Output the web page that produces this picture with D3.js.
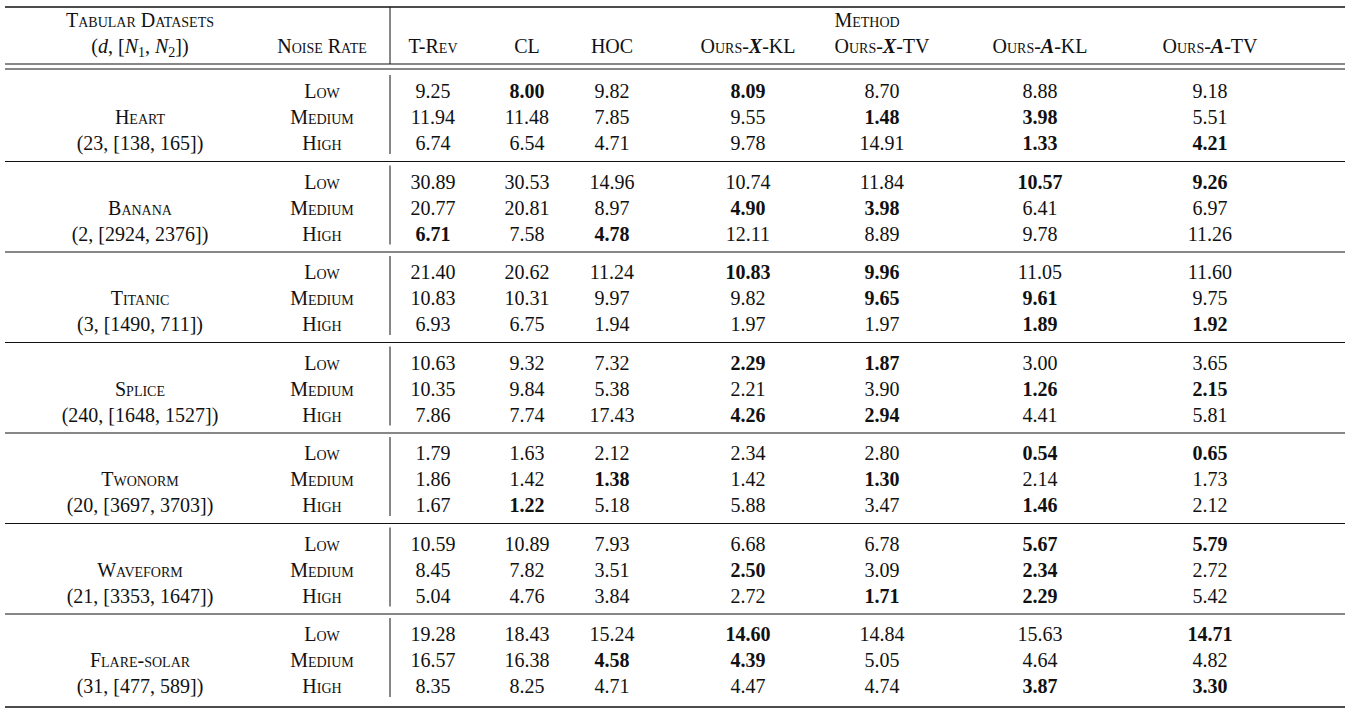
<!DOCTYPE html>
<html><head><meta charset="utf-8">
<script src="https://cdn.jsdelivr.net/npm/d3@7"></script>
<style>body{margin:0;background:#fff}text{font-family:"Liberation Serif","DejaVu Serif",serif;font-size:20px;fill:#111}</style>
</head><body>
<script>
var datasets = ["Heart", "Banana", "Titanic", "Splice", "Twonorm", "Waveform", "Flare-solar"];
var dims = ["(23, [138, 165])", "(2, [2924, 2376])", "(3, [1490, 711])", "(240, [1648, 1527])",
            "(20, [3697, 3703])", "(21, [3353, 1647])", "(31, [477, 589])"];
var noiseRates = ["Low", "Medium", "High"];
var methods = ["T-Rev", "CL", "HOC", "X-KL", "X-TV", "A-KL", "A-TV"];

var values = [
  [[9.25,8.00,9.82,8.09,8.70,8.88,9.18],[11.94,11.48,7.85,9.55,1.48,3.98,5.51],[6.74,6.54,4.71,9.78,14.91,1.33,4.21]],
  [[30.89,30.53,14.96,10.74,11.84,10.57,9.26],[20.77,20.81,8.97,4.90,3.98,6.41,6.97],[6.71,7.58,4.78,12.11,8.89,9.78,11.26]],
  [[21.40,20.62,11.24,10.83,9.96,11.05,11.60],[10.83,10.31,9.97,9.82,9.65,9.61,9.75],[6.93,6.75,1.94,1.97,1.97,1.89,1.92]],
  [[10.63,9.32,7.32,2.29,1.87,3.00,3.65],[10.35,9.84,5.38,2.21,3.90,1.26,2.15],[7.86,7.74,17.43,4.26,2.94,4.41,5.81]],
  [[1.79,1.63,2.12,2.34,2.80,0.54,0.65],[1.86,1.42,1.38,1.42,1.30,2.14,1.73],[1.67,1.22,5.18,5.88,3.47,1.46,2.12]],
  [[10.59,10.89,7.93,6.68,6.78,5.67,5.79],[8.45,7.82,3.51,2.50,3.09,2.34,2.72],[5.04,4.76,3.84,2.72,1.71,2.29,5.42]],
  [[19.28,18.43,15.24,14.60,14.84,15.63,14.71],[16.57,16.38,4.58,4.39,5.05,4.64,4.82],[8.35,8.25,4.71,4.47,4.74,3.87,3.30]]
];
// column indices shown in bold, per row
var bold = [
  [[1,3],[4,5],[5,6]],
  [[5,6],[3,4],[0,2]],
  [[3,4],[4,5],[5,6]],
  [[3,4],[5,6],[3,4]],
  [[5,6],[2,4],[1,5]],
  [[5,6],[3,5],[4,5]],
  [[3,6],[2,3],[5,6]]
];

var W = 1349, H = 710;
var svg = d3.select("body").append("svg").attr("width", W).attr("height", H);

var colX = d3.scaleOrdinal().domain(methods).range([433, 527, 612, 748, 882, 1040, 1210]);
var groupY = d3.scaleLinear().domain([0, 1]).range([92, 182.5]);
var rowStep = 26;
var fmt = d3.format(".2f");

function hline(y, w) {
  svg.append("line").attr("x1", 5).attr("x2", 1345).attr("y1", y).attr("y2", y)
    .attr("stroke", "#111").attr("stroke-width", w || 1);
}
function vline(y1, y2) {
  svg.append("line").attr("x1", 390).attr("x2", 390).attr("y1", y1).attr("y2", y2)
    .attr("stroke", "#111").attr("stroke-width", 1);
}
function sc(sel) { return sel.style("font-variant", "small-caps"); }

// rules
hline(7, 1.6);
hline(64, 1); hline(69, 1);
hline(707, 1.6);
vline(7, 64);

// header
sc(svg.append("text").attr("x", 140).attr("y", 27).attr("text-anchor", "middle").text("Tabular Datasets"));
var dh = svg.append("text").attr("x", 140).attr("y", 53).attr("text-anchor", "middle");
dh.append("tspan").text("(");
dh.append("tspan").style("font-style", "italic").text("d");
dh.append("tspan").text(", [");
dh.append("tspan").style("font-style", "italic").text("N");
dh.append("tspan").attr("font-size", 14).attr("dy", 4).text("1");
dh.append("tspan").attr("dy", -4).text(", ");
dh.append("tspan").style("font-style", "italic").text("N");
dh.append("tspan").attr("font-size", 14).attr("dy", 4).text("2");
dh.append("tspan").attr("dy", -4).text("])");
sc(svg.append("text").attr("x", 322).attr("y", 53).attr("text-anchor", "middle").text("Noise Rate"));
sc(svg.append("text").attr("x", 867).attr("y", 27).attr("text-anchor", "middle").text("Method"));

methods.forEach(function (m) {
  var t = svg.append("text").attr("x", colX(m)).attr("y", 53).attr("text-anchor", "middle");
  if (m[0] === "X" || m[0] === "A") {
    var parts = m.split("-");
    sc(t.append("tspan").text("Ours-"));
    t.append("tspan").style("font-weight", "bold").style("font-style", "italic").text(parts[0]);
    t.append("tspan").text("-" + parts[1]);
  } else if (m === "T-Rev") {
    sc(t.append("tspan").text(m));
  } else {
    t.text(m);
  }
});

// body
datasets.forEach(function (ds, g) {
  var y0 = groupY(g);
  if (g > 0) hline(y0 - 21);
  vline(y0 - 17, y0 + 2 * rowStep + 10);
  sc(svg.append("text").attr("x", 140).attr("y", y0 + rowStep + 6).attr("text-anchor", "middle").text(ds));
  svg.append("text").attr("x", 140).attr("y", y0 + 2 * rowStep + 6).attr("text-anchor", "middle").text(dims[g]);
  noiseRates.forEach(function (nr, r) {
    var y = y0 + r * rowStep + 6;
    sc(svg.append("text").attr("x", 322).attr("y", y).attr("text-anchor", "middle").text(nr));
    svg.selectAll(null).data(values[g][r]).enter().append("text")
      .attr("x", function (d, i) { return colX(methods[i]); })
      .attr("y", y)
      .attr("text-anchor", "middle")
      .style("font-weight", function (d, i) { return bold[g][r].indexOf(i) >= 0 ? "bold" : "normal"; })
      .text(function (d) { return fmt(d); });
  });
});
</script>
</body></html>
